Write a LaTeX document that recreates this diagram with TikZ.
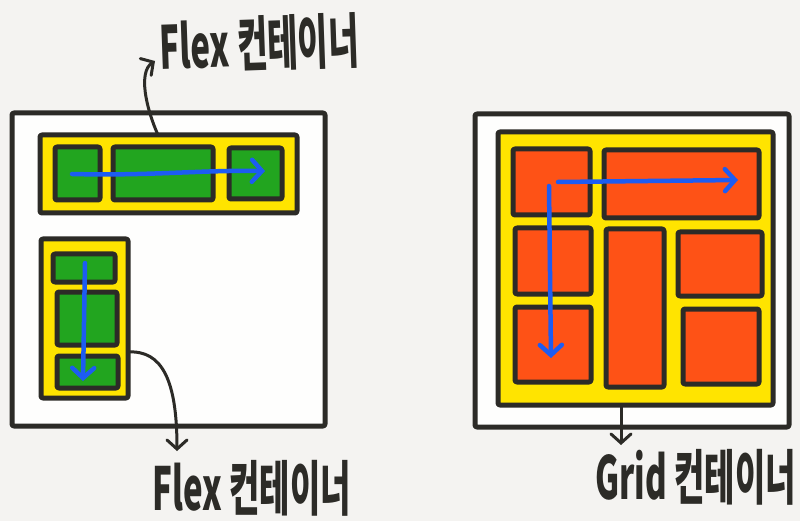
\documentclass[tikz,border=0pt]{standalone}
\usepackage{fontspec}
\usepackage{graphicx}
\newfontfamily\kr{Noto Sans CJK KR}
\usetikzlibrary{arrows.meta,calc}
\definecolor{bg}{HTML}{F4F3F1}
\definecolor{paper}{HTML}{FEFEFD}
\definecolor{ink}{HTML}{2C2B27}
\definecolor{yel}{HTML}{FFE400}
\definecolor{grn}{HTML}{22A51F}
\definecolor{org}{HTML}{FE5216}
\definecolor{blu}{HTML}{1D5CF2}
\newcommand\mybox[6]{\node[#2, minimum width={(#5-#3)*1pt}, minimum height={(#6-#4)*1pt}] (#1) at ({(#3+#5)/2},{(#4+#6)/2}) {};}
\newcommand\handtext[1]{\scalebox{1}[1.8]{\kr\bfseries #1}}
\begin{document}
\begin{tikzpicture}[x=1pt,y=-1pt,line join=round,
  boxbase/.style={draw=ink, line width=5, rounded corners=2, inner sep=0pt, outer sep=0pt},
  frame/.style={boxbase, fill=paper},
  ybox/.style={boxbase, fill=yel},
  gbox/.style={boxbase, fill=grn},
  obox/.style={boxbase, fill=org},
  flow/.style={draw=blu, line width=4.5, line cap=round, -{Straight Barb[length=10,width=22,line cap=round]}},
  conn/.style={draw=ink, line width=3, line cap=round, -{Straight Barb[length=9,width=20,line cap=round]}},
  label/.style={text=ink, font=\fontsize{33}{33}\selectfont, inner sep=0pt, anchor=west}]
\fill[bg] (0,0) rectangle (800,521);
\useasboundingbox (0,0) rectangle (800,521);

% left frame
\mybox{lf}{frame}{12}{113}{325}{426}
\mybox{yt}{ybox}{40}{135}{297}{213}
\mybox{g1}{gbox}{55}{147}{100}{200}
\mybox{g2}{gbox}{113}{147}{213}{200}
\mybox{g3}{gbox}{229}{148}{282}{199}
\mybox{yl}{ybox}{41}{239}{128}{398}
\mybox{g4}{gbox}{53}{254}{115}{282}
\mybox{g5}{gbox}{57}{292}{117}{345}
\mybox{g6}{gbox}{57}{356}{118}{388}

\coordinate (f1s) at (72,174);
\coordinate (f1e) at (265,171);
\draw[flow] (f1s) .. controls (150,176) and (200,170) .. (f1e);
\coordinate (f2s) at (85,263);
\coordinate (f2e) at (83,381);
\draw[flow] (f2s) -- (f2e);

% right frame
\mybox{rf}{frame}{475}{114}{789}{427}
\mybox{yr}{ybox}{498}{132}{773}{405}
\mybox{o1}{obox}{513}{149}{590}{215}
\mybox{o2}{obox}{604}{150}{759}{218}
\mybox{o3}{obox}{515}{228}{591}{294}
\mybox{o4}{obox}{515}{307}{591}{382}
\mybox{o5}{obox}{606}{229}{664}{387}
\mybox{o6}{obox}{678}{232}{762}{296}
\mybox{o7}{obox}{683}{309}{759}{384}

\coordinate (f3s) at (558,182);
\coordinate (f3e) at (738,180);
\draw[flow] (f3s) -- (f3e);
\coordinate (f4s) at (549,186);
\coordinate (f4e) at (551,358);
\draw[flow] (f4s) -- (f4e);

% labels
\node[label, rotate=2] (lab1) at (160,47) {\handtext{Flex 컨테이너}};
\node[label] (lab2) at (152,488) {\handtext{Flex 컨테이너}};
\node[label] (lab3) at (595,477) {\handtext{Grid 컨테이너}};

% connectors
\coordinate (t1) at (155,61);
\draw[conn] (yt.north -| 158,0) .. controls (146,108) and (138,72) .. (t1);
\coordinate (t2) at (177,451);
\draw[conn] (yl.east |- 0,352) .. controls (162,350) and (177,380) .. (t2);
\coordinate (t3) at (621,445);
\draw[conn] (yr.south -| 621,0) -- (t3);
\end{tikzpicture}
\end{document}
